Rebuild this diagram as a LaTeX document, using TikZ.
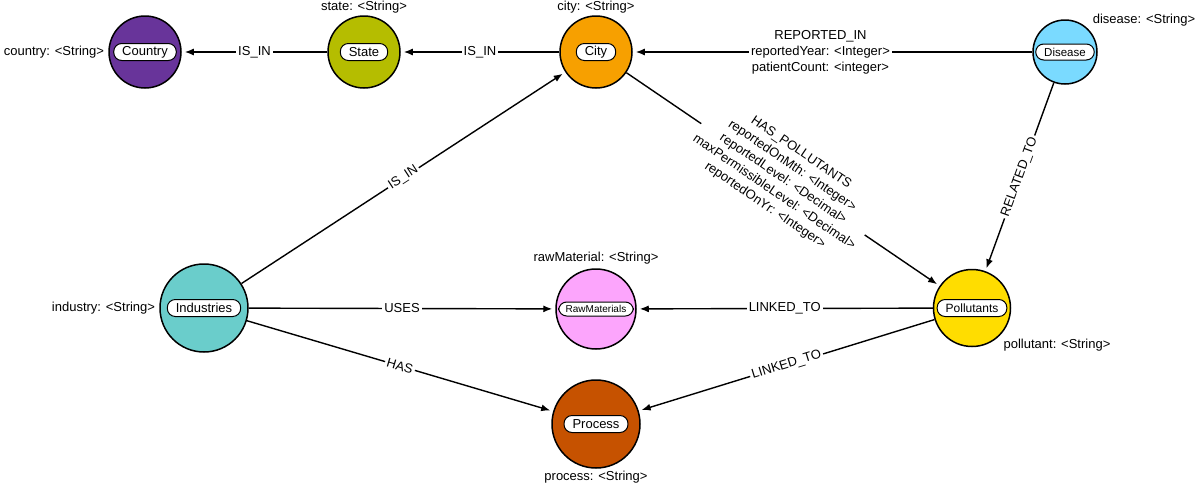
\documentclass[tikz,border=0pt]{standalone}
\usepackage{fontspec}
\setmainfont{Liberation Sans}
\usepackage{tikz}
\usetikzlibrary{arrows.meta,positioning}
\usepackage{xcolor}
\definecolor{countryc}{RGB}{104,52,154}
\definecolor{statec}{RGB}{181,189,0}
\definecolor{cityc}{RGB}{247,160,0}
\definecolor{diseasec}{RGB}{122,218,255}
\definecolor{industryc}{RGB}{106,205,203}
\definecolor{rawc}{RGB}{252,165,252}
\definecolor{pollc}{RGB}{255,221,0}
\definecolor{processc}{RGB}{198,82,0}

\begin{document}
\begin{tikzpicture}[x=1pt, y=-1pt,
    ent/.style={circle, draw, line width=1.5pt, inner sep=0pt},
    pill/.style={draw, fill=white, rounded corners=8pt, line width=1pt,
                 inner xsep=8.5pt, inner ysep=0pt, minimum height=17pt,
                 font=\fontsize{13}{15}\selectfont},
    prop/.style={inner sep=1pt, font=\fontsize{13}{15}\selectfont},
    rel/.style={-{Latex[length=9pt,width=7pt]}, line width=1.4pt, shorten >=3pt},
    lbl/.style={fill=white, inner sep=2pt, font=\fontsize{13}{16}\selectfont}
  ]
    \useasboundingbox (0,0) rectangle (1200,485);

    % Places
    \node[ent, fill=countryc, minimum size=72pt] (country) at (145,52) {};
    \node[pill] (countryl) at (country) {Country};
    \node[prop, left=3pt of country] (countryp) {country: <String>};

    \node[ent, fill=statec, minimum size=72pt] (state) at (364,52) {};
    \node[pill] (statel) at (state) {State};
    \node[prop, above=1pt of state] (statep) {state: <String>};

    \node[ent, fill=cityc, minimum size=72pt] (city) at (596,52) {};
    \node[pill] (cityl) at (city) {City};
    \node[prop, above=1pt of city] (cityp) {city: <String>};

    % Disease
    \node[ent, fill=diseasec, minimum size=64pt] (disease) at (1065,52) {};
    \node[pill, font=\fontsize{11.5}{14}\selectfont, minimum height=16pt] (diseasel) at (disease) {Disease};
    \node[prop] (diseasep) at (1144,20) {disease: <String>};

    % Industry side
    \node[ent, fill=industryc, minimum size=88pt] (industries) at (204,308) {};
    \node[pill] (industriesl) at (industries) {Industries};
    \node[prop, left=3pt of industries] (industriesp) {industry: <String>};

    \node[ent, fill=rawc, minimum size=80pt] (rawmat) at (596,309) {};
    \node[pill, font=\fontsize{10}{12}\selectfont, minimum height=14pt, inner xsep=7pt] (rawmatl) at (rawmat) {RawMaterials};
    \node[prop, above=3pt of rawmat] (rawmatp) {rawMaterial: <String>};

    \node[ent, fill=processc, minimum size=88pt] (process) at (596,424) {};
    \node[pill] (processl) at (process) {Process};
    \node[prop, below=1pt of process] (processp) {process: <String>};

    % Pollutants
    \node[ent, fill=pollc, minimum size=77pt] (pollutants) at (972,308) {};
    \node[pill, font=\fontsize{12}{14}\selectfont] (pollutantsl) at (pollutants) {Pollutants};
    \node[prop] (pollutantsp) at (1057,345) {pollutant: <String>};

    % Relations
    \draw[rel] (state) -- node[lbl] {IS\_IN} (country);
    \draw[rel] (city) -- node[lbl] {IS\_IN} (state);
    \draw[rel] (disease) -- node[lbl, align=center, pos=0.53]
      {REPORTED\_IN\\reportedYear: <Integer>\\patientCount: <integer>} (city);
    \draw[rel] (industries) -- node[lbl, sloped] {IS\_IN} (city);
    \draw[rel] (city) -- node[lbl, sloped, align=center]
      {HAS\_POLLUTANTS\\reportedOnMth: <Integer>\\reportedLevel: <Decimal>\\
       maxPermissibleLevel: <Decimal>\\reportedOnYr: <Integer>} (pollutants);
    \draw[rel] (disease) -- node[lbl, sloped] {RELATED\_TO} (pollutants);
    \draw[rel] (industries) -- node[lbl] {USES} (rawmat);
    \draw[rel] (pollutants) -- node[lbl] {LINKED\_TO} (rawmat);
    \draw[rel] (industries) -- node[lbl, sloped] {HAS} (process);
    \draw[rel] (pollutants) -- node[lbl, sloped] {LINKED\_TO} (process);
  \end{tikzpicture}
\end{document}
